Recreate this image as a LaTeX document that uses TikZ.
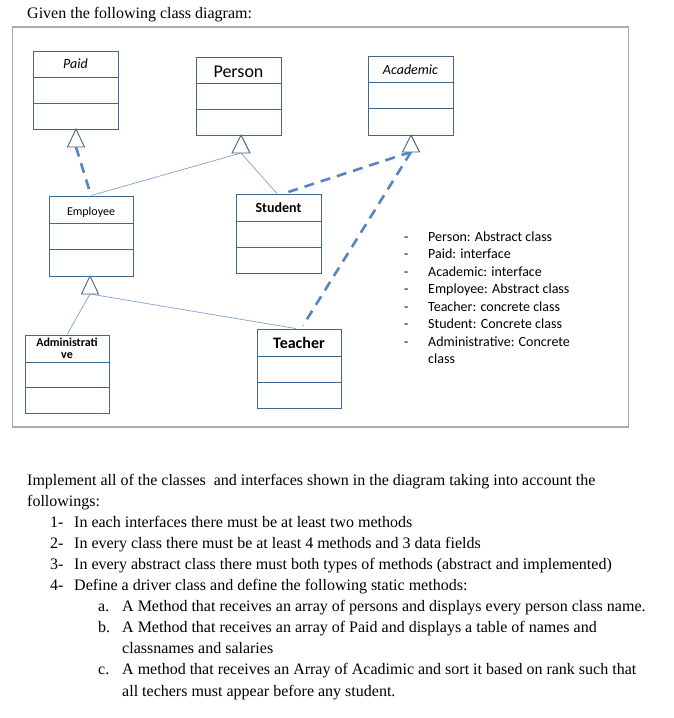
\documentclass[tikz,border=0pt]{standalone}
\usepackage{fontspec}
\setmainfont{Liberation Serif}
\newfontfamily\calibrifont{Carlito}
\usetikzlibrary{calc}
\definecolor{boxline}{HTML}{41668F}
\definecolor{dashblue}{HTML}{5585C2}
\definecolor{thinblue}{HTML}{7CA3D4}
\definecolor{framegray}{HTML}{ABABAB}
\begin{document}
\begin{tikzpicture}[x=1pt,y=-1pt,
  classbox/.style={draw=boxline,line width=0.9pt,inner sep=0pt,fill=white},
  divider/.style={draw=boxline,line width=0.9pt},
  tri/.style={draw=boxline,line width=0.9pt,fill=white,line join=miter},
  realize/.style={draw=dashblue,line width=2.6pt,dash pattern=on 10pt off 7pt},
  inherit/.style={draw=thinblue,line width=0.7pt},
  cname/.style={inner sep=0pt,anchor=base},
  legend/.style={font=\calibrifont\fontsize{14}{17}\selectfont,inner sep=0pt,anchor=base west},
  body/.style={font=\fontsize{16}{20}\selectfont,inner sep=0pt,anchor=base west}]
\useasboundingbox (0,0) rectangle (673,718);
\fill[white] (0,0) rectangle (673,718);

% title
\node[body] (title) at (27,18) {Given the following class diagram:};

% frame
\draw[framegray,line width=1.4pt] (12.5,27) rectangle (628.5,427);

% class boxes
\node[classbox,minimum width=85pt,minimum height=78pt] (paid) at (75.5,90) {};
\draw[divider] (paid.west |- 0,77) -- (paid.east |- 0,77);
\draw[divider] (paid.west |- 0,103) -- (paid.east |- 0,103);
\node[cname,font=\calibrifont\itshape\fontsize{14}{14}\selectfont] (paidname) at (75.5,68.3) {Paid};

\node[classbox,minimum width=85pt,minimum height=78pt] (person) at (238.5,96) {};
\draw[divider] (person.west |- 0,83) -- (person.east |- 0,83);
\draw[divider] (person.west |- 0,109) -- (person.east |- 0,109);
\node[cname,font=\calibrifont\fontsize{18}{18}\selectfont] (personname) at (238.5,77.3) {Person};

\node[classbox,minimum width=85pt,minimum height=79pt] (academic) at (410.5,95.5) {};
\draw[divider] (academic.west |- 0,82) -- (academic.east |- 0,82);
\draw[divider] (academic.west |- 0,108) -- (academic.east |- 0,108);
\node[cname,font=\calibrifont\itshape\fontsize{14}{14}\selectfont] (academicname) at (410.5,74) {Academic};

\node[classbox,minimum width=84pt,minimum height=80pt] (employee) at (91,236) {};
\draw[divider] (employee.west |- 0,223) -- (employee.east |- 0,223);
\draw[divider] (employee.west |- 0,249) -- (employee.east |- 0,249);
\node[cname,font=\calibrifont\fontsize{12}{12}\selectfont] (employeename) at (91,215) {Employee};

\node[classbox,minimum width=85pt,minimum height=79pt] (student) at (278.5,233.5) {};
\draw[divider] (student.west |- 0,221) -- (student.east |- 0,221);
\draw[divider] (student.west |- 0,247) -- (student.east |- 0,247);
\node[cname,font=\calibrifont\bfseries\fontsize{14}{14}\selectfont] (studentname) at (278.5,212.7) {Student};

\node[classbox,minimum width=84pt,minimum height=78pt] (admin) at (67,374) {};
\draw[divider] (admin.west |- 0,362) -- (admin.east |- 0,362);
\draw[divider] (admin.west |- 0,387) -- (admin.east |- 0,387);
\node[inner sep=0pt,align=center,font=\calibrifont\bfseries\fontsize{12}{11.6}\selectfont] (adminname) at (67,348.5) {Administrati\\ve};

\node[classbox,minimum width=84pt,minimum height=79pt] (teacher) at (299,368.5) {};
\draw[divider] (teacher.west |- 0,356) -- (teacher.east |- 0,356);
\draw[divider] (teacher.west |- 0,382) -- (teacher.east |- 0,382);
\node[cname,font=\calibrifont\bfseries\fontsize{16}{16}\selectfont] (teachername) at (299,348.3) {Teacher};

% triangle anchor points
\coordinate (paidtip) at (76,129);
\coordinate (paidbase) at (76,147);
\coordinate (persontip) at (241,135);
\coordinate (personbase) at (241,153);
\coordinate (acadtip) at (411,135);
\coordinate (acadbase) at (411,152);
\coordinate (emptip) at (90,276);
\coordinate (empbase) at (90,294);

% connectors
\draw[realize] (paidbase) -- (employee.north);
\draw[inherit] (personbase) -- (employee.north);
\draw[inherit] (personbase) -- ($(student.north)+(-1.5,0)$);
\draw[realize] (acadbase) -- ($(student.north)+(5,0)$);
\draw[realize] (acadbase) -- ($(teacher.north)+(4,-3)$);
\draw[inherit] (empbase) -- (admin.north);
\draw[inherit] (empbase) -- ($(teacher.north)+(-3,0)$);

% triangles
\draw[tri] (paidtip) -- ++(8.5,18) -- ++(-17,0) -- cycle;
\draw[tri] (persontip) -- ++(9,18) -- ++(-18,0) -- cycle;
\draw[tri] (acadtip) -- ++(8.5,17) -- ++(-17,0) -- cycle;
\draw[tri] (emptip) -- ++(8.5,18) -- ++(-17,0) -- cycle;

% legend
\foreach \t [count=\i] in {Person: Abstract class, Paid: interface, Academic: interface, Employee: Abstract class, Teacher: concrete class, Student: Concrete class, Administrative: Concrete}{
  \node[legend] (dash\i) at (404,241+17.5*\i-17.5) {-};
  \node[legend] (leg\i) at (428,241+17.5*\i-17.5) {\t};
}
\node[legend] (leg8) at (428,363.5) {class};

% body text
\node[body] (b1) at (27,485) {Implement all of the classes\ \ and interfaces shown in the diagram taking into account the};
\node[body] (b2) at (27,506) {followings:};
\node[body] (n1) at (50,527) {1-};
\node[body] (t1) at (74,527) {In each interfaces there must be at least two methods};
\node[body] (n2) at (50,548) {2-};
\node[body] (t2) at (74,548) {In every class there must be at least 4 methods and 3 data fields};
\node[body] (n3) at (50,569) {3-};
\node[body] (t3) at (74,569) {In every abstract class there must both types of methods (abstract and implemented)};
\node[body] (n4) at (50,590) {4-};
\node[body] (t4) at (74,590) {Define a driver class and define the following static methods:};
\node[body] (na) at (98,611.5) {a.};
\node[body] (ta) at (122,611.5) {A Method that receives an array of persons and displays every person class name.};
\node[body] (nb) at (98,632.5) {b.};
\node[body] (tb) at (122,632.5) {A Method that receives an array of Paid and displays a table of names and};
\node[body] (tb2) at (122,653.5) {classnames and salaries};
\node[body] (nc) at (98,674.5) {c.};
\node[body] (tc) at (122,674.5) {A method that receives an Array of Acadimic and sort it based on rank such that};
\node[body] (tc2) at (122,696) {all techers must appear before any student.};
\end{tikzpicture}
\end{document}
